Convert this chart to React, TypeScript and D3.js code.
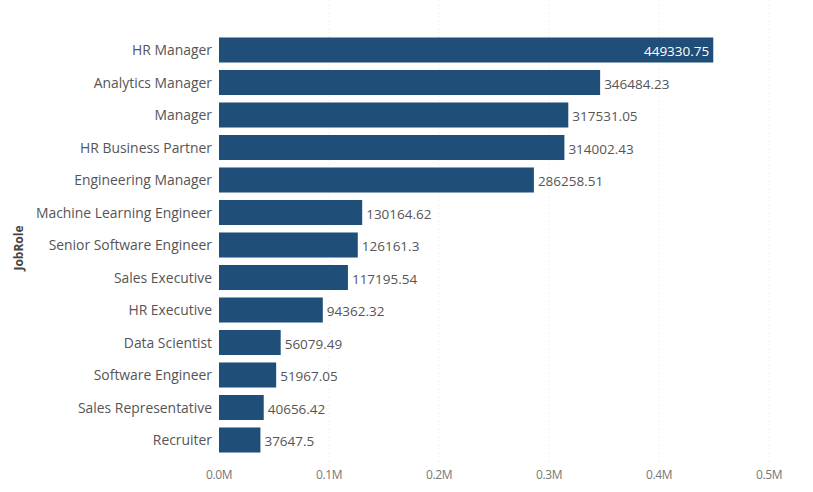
import { useEffect, useRef } from 'react';
import * as d3 from 'd3';

// Average salary by job role
const roles = [
    'HR Manager',
    'Analytics Manager',
    'Manager',
    'HR Business Partner',
    'Engineering Manager',
    'Machine Learning Engineer',
    'Senior Software Engineer',
    'Sales Executive',
    'HR Executive',
    'Data Scientist',
    'Software Engineer',
    'Sales Representative',
    'Recruiter'
];
const values = [
    449330.75, 346484.23, 317531.05, 314002.43, 286258.51, 130164.62,
    126161.3, 117195.54, 94362.32, 56079.49, 51967.05, 40656.42, 37647.5
];
const xTicks = [0, 100000, 200000, 300000, 400000, 500000];

export default function App() {
    const svgRef = useRef<SVGSVGElement>(null);

    useEffect(() => {
        if (!svgRef.current) return;
        const svg = d3.select(svgRef.current);
        svg.selectAll('*').remove();

        const font = '"Open Sans", "Noto Sans", sans-serif';
        const data = roles.map((r, i) => ({ role: r, value: values[i] }));

        const x = d3.scaleLinear().domain([0, 500000]).range([219, 769]);
        const y = d3.scaleBand<string>()
            .domain(roles)
            .range([33.75, 456.25])
            .paddingInner(0.23)
            .paddingOuter(0.115);

        // Grid lines (dotted)
        svg.append('g')
            .selectAll('line')
            .data(xTicks.slice(1))
            .enter()
            .append('line')
            .attr('x1', d => x(d))
            .attr('x2', d => x(d))
            .attr('y1', 0)
            .attr('y2', 462)
            .attr('stroke', '#ececec')
            .attr('stroke-width', 1)
            .attr('stroke-dasharray', '1,3');

        // Bars
        svg.append('g')
            .selectAll('rect')
            .data(data)
            .enter()
            .append('rect')
            .attr('x', x(0))
            .attr('y', d => y(d.role) || 0)
            .attr('width', d => x(d.value) - x(0))
            .attr('height', y.bandwidth())
            .attr('fill', '#1f4e79');

        // Value labels
        const fmt = (v: number) => String(v);
        svg.append('g')
            .selectAll('text')
            .data(data)
            .enter()
            .append('text')
            .attr('x', (d, i) => i === 0 ? x(d.value) - 4 : x(d.value) + 4)
            .attr('y', d => (y(d.role) || 0) + y.bandwidth() / 2 + 6)
            .attr('text-anchor', (d, i) => i === 0 ? 'end' : 'start')
            .attr('fill', (d, i) => i === 0 ? '#ffffff' : '#555555')
            .attr('font-family', font)
            .attr('font-size', '13.5px')
            .text(d => fmt(d.value));

        // Category labels
        svg.append('g')
            .selectAll('text')
            .data(data)
            .enter()
            .append('text')
            .attr('x', 212)
            .attr('y', d => (y(d.role) || 0) + y.bandwidth() / 2 + 5)
            .attr('text-anchor', 'end')
            .attr('fill', '#555555')
            .attr('font-family', font)
            .attr('font-size', '13.9px')
            .text(d => d.role);

        // X axis tick labels
        svg.append('g')
            .selectAll('text')
            .data(xTicks)
            .enter()
            .append('text')
            .attr('x', d => x(d))
            .attr('y', 479)
            .attr('text-anchor', 'middle')
            .attr('fill', '#777777')
            .attr('font-family', font)
            .attr('font-size', '12px')
            .attr('letter-spacing', '-0.4px')
            .text(d => `${(d / 1e6).toFixed(1)}M`);

        // Y axis title
        svg.append('text')
            .attr('transform', 'translate(23,248) rotate(-90)')
            .attr('text-anchor', 'middle')
            .attr('fill', '#444444')
            .attr('font-family', font)
            .attr('font-size', '12px')
            .attr('font-weight', 700)
            .text('JobRole');
    }, []);

    return (
        <svg
            ref={svgRef}
            width={813}
            height={492}
            style={{ position: 'absolute', left: 0, top: 0, background: '#ffffff' }}
        />
    );
}
